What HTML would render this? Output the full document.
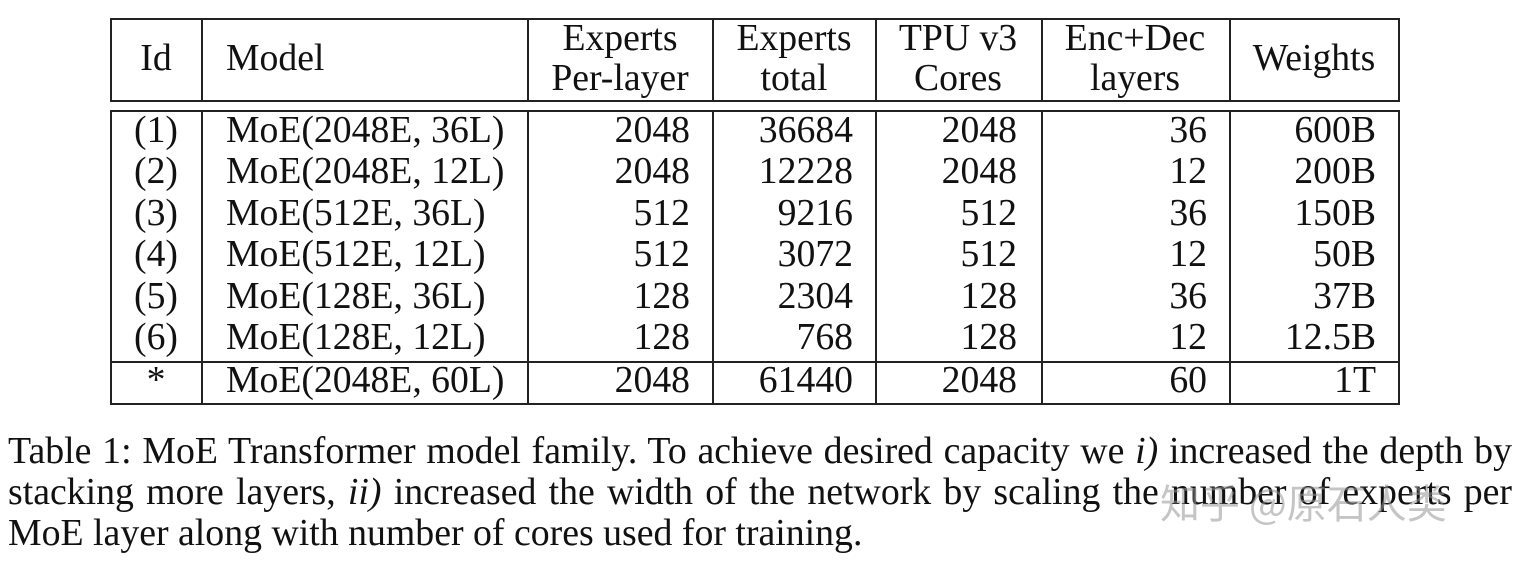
<!DOCTYPE html>
<html><head><meta charset="utf-8"><style>
body{margin:0;width:1528px;height:561px;background:#fff;position:relative;overflow:hidden;font-family:"Liberation Serif",serif;color:#111;}
.l{position:absolute;background:#222;}
.t{position:absolute;font-size:37.7px;line-height:40px;white-space:nowrap;}
.c{transform:translateX(-50%);}
.r{transform:translateX(-100%);}
.cap{position:absolute;left:8px;width:1504px;font-size:37.8px;line-height:41px;white-space:nowrap;}
.j{text-align:justify;text-align-last:justify;}
.wm{position:absolute;left:1160px;top:472px;font-family:"Noto Sans CJK SC",sans-serif;font-size:40px;color:rgba(150,150,150,0.55);}
</style></head><body>
<div>
<div class="l" style="left:110px;top:18px;width:1290px;height:2px"></div>
<div class="l" style="left:110px;top:100px;width:1290px;height:2px"></div>
<div class="l" style="left:110px;top:110px;width:1290px;height:2px"></div>
<div class="l" style="left:110px;top:361px;width:1290px;height:2px"></div>
<div class="l" style="left:110px;top:403px;width:1290px;height:2px"></div>
<div class="l" style="left:110px;top:18px;width:2px;height:84px"></div>
<div class="l" style="left:110px;top:110px;width:2px;height:295px"></div>
<div class="l" style="left:1398px;top:18px;width:2px;height:84px"></div>
<div class="l" style="left:1398px;top:110px;width:2px;height:295px"></div>
<div id="vl"></div>
<div id="cells"></div>
</div>
<div class="cap j" style="top:431px">Table 1: MoE Transformer model family. To achieve desired capacity we <i>i)</i> increased the depth by</div>
<div class="cap j" style="top:472px">stacking more layers, <i>ii)</i> increased the width of the network by scaling the number of experts per</div>
<div class="cap" style="top:513px">MoE layer along with number of cores used for training.</div>
<div class="wm">知乎 @原石人类</div>
<script>
const vxs=[201,527,712,875,1041,1229];
const vl=document.getElementById('vl');
for(const x of vxs){for(const [t,h] of [[18,84],[110,295]]){const d=document.createElement('div');d.className='l';d.style.cssText=`left:${x}px;top:${t}px;width:2px;height:${h}px`;


vl.appendChild(d);}}
const ids=["(1)","(2)","(3)","(4)","(5)","(6)","*"];
const models=["MoE(2048E, 36L)","MoE(2048E, 12L)","MoE(512E, 36L)","MoE(512E, 12L)","MoE(128E, 36L)","MoE(128E, 12L)","MoE(2048E, 60L)"];
const perLayer=["2048","2048","512","512","128","128","2048"];
const total=["36684","12228","9216","3072","2304","768","61440"];
const cores=["2048","2048","512","512","128","128","2048"];
const layers=["36","12","36","12","36","12","60"];
const weights=["600B","200B","150B","50B","37B","12.5B","1T"];
const rowY=[110,151,193,234,276,317,360];
const cells=document.getElementById('cells');
function add(txt,x,y,cls,name){const d=document.createElement('div');d.className='t '+cls;d.style.left=x+'px';d.style.top=y+'px';d.textContent=txt;


cells.appendChild(d);}
add("Id",156,38,'c','header-id');add("Model",226,38,'','header-model');
add("Experts",620,18,'c','header-experts-per-layer');add("Per-layer",620,58,'c','header-experts-per-layer-2');
add("Experts",794,18,'c','header-experts-total');add("total",794,58,'c','header-experts-total-2');
add("TPU v3",958,18,'c','header-tpu');add("Cores",958,58,'c','header-tpu-2');
add("Enc+Dec",1135,18,'c','header-layers');add("layers",1135,58,'c','header-layers-2');
add("Weights",1314,38,'c','header-weights');
for(let i=0;i<ids.length;i++){const y=rowY[i];
add(ids[i],156,y,'c','row-id');add(models[i],226,y,'','row-model');
add(perLayer[i],690,y,'r','row-experts-per-layer');add(total[i],853,y,'r','row-experts-total');
add(cores[i],1017,y,'r','row-cores');add(layers[i],1207,y,'r','row-layers');add(weights[i],1376,y,'r','row-weights');}
</script>
</body></html>
